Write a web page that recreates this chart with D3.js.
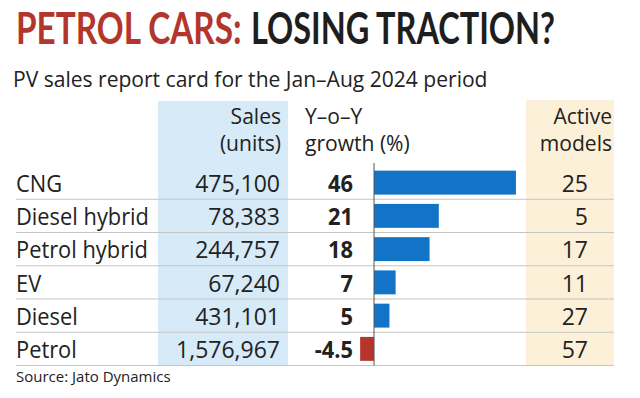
<!DOCTYPE html>
<html><head><meta charset="utf-8">
<script src="https://cdn.jsdelivr.net/npm/d3@7"></script>
<style>body{margin:0;background:#fff}svg{display:block}</style>
</head><body>
<svg id="c" width="640" height="398"></svg>
<script>
const categories = ["CNG","Diesel hybrid","Petrol hybrid","EV","Diesel","Petrol"];
const sales = [475100,78383,244757,67240,431101,1576967];
const growth = [46,21,18,7,5,-4.5];
const models = [25,5,17,11,27,57];
const titleRed = "PETROL CARS:";
const titleDark = "LOSING TRACTION?";
const subtitle = "PV sales report card for the Jan\u2013Aug 2024 period";
const headers = [["Sales","(units)"],["Y\u2013o\u2013Y","growth (%)"],["Active","models"]];
const source = "Source: Jato Dynamics";

const svg = d3.select("#c");
const FONT = "'Open Sans', sans-serif";
const SX = 0.95;
function txt(g, x, y, s, size, opts={}) {
  return g.append("text")
    .attr("transform", `translate(${x},${y}) scale(${opts.sx||SX},1)`)
    .attr("text-anchor", opts.anchor||"start")
    .attr("font-family", opts.font||FONT)
    .attr("font-size", size)
    .attr("font-weight", opts.weight||"normal")
    .attr("fill", opts.fill||"#222")
    .text(s);
}
function txt2(g, x, y, lines, size, opts={}) {
  const t = g.append("text")
    .attr("transform", `translate(${x},${y}) scale(${opts.sx||SX},1)`)
    .attr("text-anchor", opts.anchor||"start")
    .attr("font-family", FONT)
    .attr("font-size", size)
    .attr("fill", "#222");
  lines.forEach((l,i) => t.append("tspan").attr("x",0).attr("dy", i ? 27.5 : 0).text(l));
  return t;
}

// title
txt(svg, 16, 43.5, titleRed, 43, {weight:"bold", fill:"#b3362c", sx:0.775, font:"Lato, sans-serif"});
txt(svg, 251, 43.5, titleDark, 43, {weight:"bold", fill:"#1e1e1e", sx:0.755, font:"Lato, sans-serif"});
txt(svg, 13, 87.3, subtitle, 21.5, {sx:0.98});

const y = d3.scaleBand().domain(categories).range([166, 365.5]).paddingInner(0.28).paddingOuter(0.14);
const step = y.step();
const rowTop = c => y(c) - y.paddingOuter()*step;
const x = d3.scaleLinear().domain([-5, 50]).range([358.6, 528.3]);

// panels
svg.append("rect").attr("x",158).attr("y",101).attr("width",130).attr("height",264.5).attr("fill","#d6eaf7");
svg.append("rect").attr("x",526).attr("y",100).attr("width",88).attr("height",265.5).attr("fill","#fcf0d9");

// headers
txt2(svg, 281, 123.5, headers[0], 21.5, {anchor:"end", sx:0.98});
txt2(svg, 305, 123.5, headers[1], 21.5, {sx:0.98});
txt2(svg, 612, 123.5, headers[2], 21.5, {anchor:"end", sx:0.98});

// separators
svg.append("g").selectAll("line").data(categories).join("line")
  .attr("x1",16).attr("x2",614)
  .attr("y1", c => rowTop(c)+step).attr("y2", c => rowTop(c)+step)
  .attr("stroke","#c4c4c4").attr("stroke-width",1.2);

// bars
svg.append("g").selectAll("rect").data(categories).join("rect")
  .attr("x", (c,i) => x(Math.min(0, growth[i])))
  .attr("width", (c,i) => Math.abs(x(growth[i]) - x(0)))
  .attr("y", c => y(c))
  .attr("height", y.bandwidth())
  .attr("fill", (c,i) => growth[i] < 0 ? "#b5342b" : "#1374c7");

// zero line
svg.append("line").attr("x1",x(0)).attr("x2",x(0)).attr("y1",163).attr("y2",365.5)
  .attr("stroke","#555").attr("stroke-width",1);

const fmtSales = d3.format(",");
const fmtG = d => (d < 0 ? "-" : "") + Math.abs(d);
categories.forEach((c,i) => {
  const by = rowTop(c) + step/2 + 9.3;
  txt(svg, 16, by, c, 23);
  txt(svg, 280, by, fmtSales(sales[i]), 23, {anchor:"end", sx:1});
  txt(svg, 353, by, fmtG(growth[i]), 23, {anchor:"end", weight:"bold"});
  txt(svg, 588, by, String(models[i]), 23, {anchor:"end", sx:1});
});

txt(svg, 16, 382, source, 15, {sx:1});
</script>
</body></html>
